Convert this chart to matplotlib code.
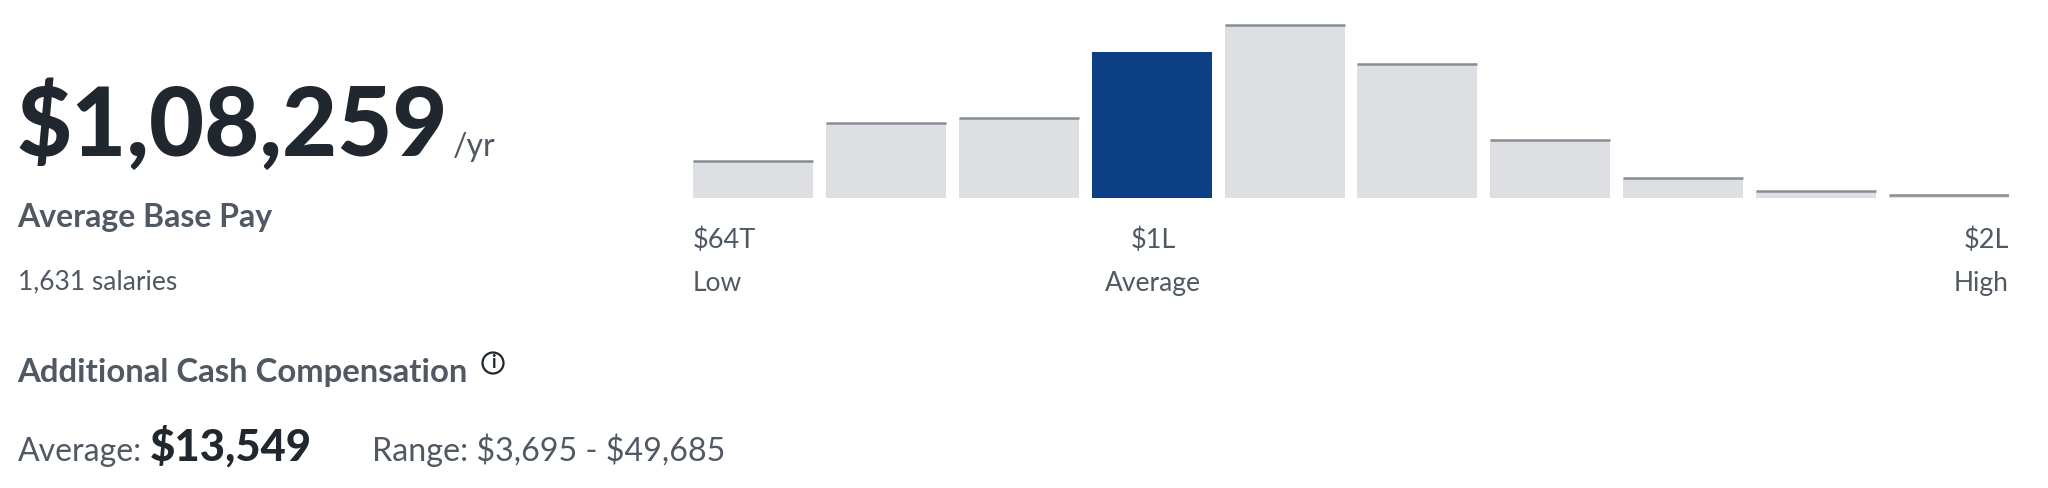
import matplotlib
matplotlib.use('Agg')
import matplotlib.pyplot as plt

plt.rcParams['font.family'] = ['Lato', 'DejaVu Sans']

heights = [37, 75, 80, 146, 173, 134, 58, 20, 7, 3]
avg_bin = 3
bin_labels = ['$64T', '$1L', '$2L']
bin_names = ['Low', 'Average', 'High']

pay = '$1,08,259'
pay_unit = '/yr'
pay_title = 'Average Base Pay'
pay_count = '1,631 salaries'
cash_title = 'Additional Cash Compensation'
cash_avg = '$13,549'
cash_range = 'Range: $3,695 - $49,685'

dark = '#20272e'
grey = '#505863'
W, H = 2048, 488

fig = plt.figure(figsize=(W / 100, H / 100), dpi=100, facecolor='white')

# page layer in pixel coords, y going down
page = fig.add_axes([0, 0, 1, 1])
page.set_xlim(0, W)
page.set_ylim(H, 0)
page.axis('off')


def put(x, y, s, size, color=grey, weight='normal', ha='left'):
    page.text(x, y, s, fontsize=size, color=color, fontweight=weight, ha=ha, va='baseline', parse_math=False)


# bars
ax = fig.add_axes([693 / W, 1 - 198 / H, (2009 - 693) / W, 198 / H])
xs = list(range(len(heights)))
colors = ['#0d3f84' if i == avg_bin else '#dedfe3' for i in xs]
ax.bar(xs, heights, width=0.903, color=colors, linewidth=0)
tops = [h for i, h in enumerate(heights) if i != avg_bin]
xt = [i for i in xs if i != avg_bin]
ax.hlines(tops, [i - 0.4515 for i in xt], [i + 0.4515 for i in xt], color='#878d94', linewidth=1.8)
ax.set_xlim(-0.4515, 9.4515)
ax.set_ylim(0, 198)
ax.axis('off')

put(693, 248, bin_labels[0], 19.5)
put(693, 291, bin_names[0], 19)
put(1153, 248, bin_labels[1], 19.5, ha='center')
put(1153, 291, bin_names[1], 19, ha='center')
put(2009, 248, bin_labels[2], 19.5, ha='right')
put(2009, 291, bin_names[2], 19, ha='right')

# left text block
put(16, 156, pay, 68.5, color=dark, weight=900)
put(453, 156, pay_unit, 23, color=grey)
put(17, 227, pay_title, 23, weight='bold')
put(18, 289, pay_count, 19)
put(17, 382, cash_title, 23.7, weight='bold')
put(18, 461, 'Average:', 23)
put(150, 461, cash_avg, 31.3, color=dark, weight=900)
put(372, 461, cash_range, 23.2)

# info icon
page.add_patch(plt.Circle((493, 363), 10.5, fill=False, edgecolor=dark, linewidth=1.6))
page.text(493, 363, 'i', fontsize=13, color=dark, fontweight='bold', ha='center', va='center')

fig.savefig('out.png', dpi=100)
